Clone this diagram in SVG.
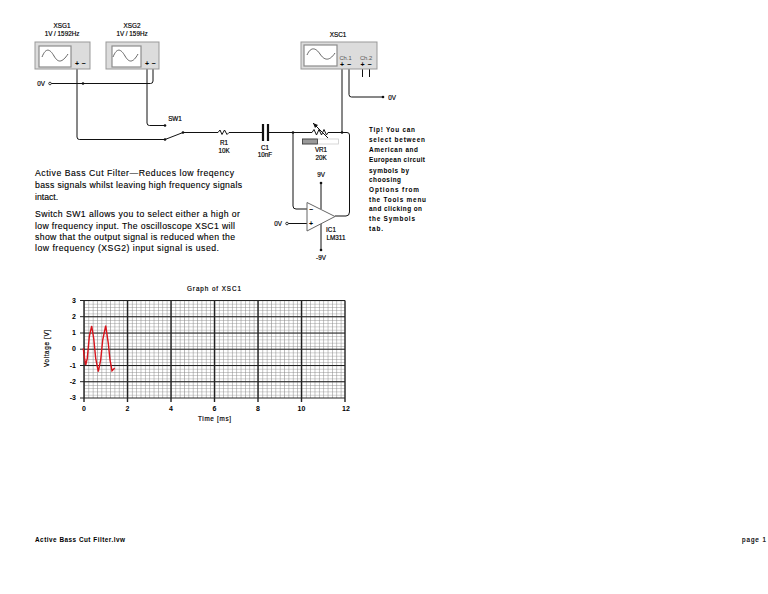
<svg xmlns="http://www.w3.org/2000/svg" width="768" height="594" viewBox="0 0 768 594">
<style>
text{font-family:"Liberation Sans",Arial,sans-serif;fill:#000}
.s{font-size:6.3px;text-anchor:middle;stroke:#000;stroke-width:0.18}
.b{font-size:8.7px;stroke:#000;stroke-width:0.12}
.t{font-size:6.4px;font-weight:bold}
.a{font-size:7px;font-weight:bold}
.w{fill:none;stroke:#111;stroke-width:1}
.box{fill:#dcdcdc;stroke:#999;stroke-width:1}
.scr{fill:#fff;stroke:#8c8c8c;stroke-width:1.2}
.sine{fill:none;stroke:#666;stroke-width:1}
.maj{stroke:#222;stroke-width:1;fill:none}
.maj2{stroke:#222;stroke-width:1.4;fill:none}
</style>
<defs>
<circle id="d" r="1.3" fill="#111"/>
<pattern id="grid" patternUnits="userSpaceOnUse" x="84" y="300.5" width="4.35" height="3.25">
<rect width="4.35" height="3.25" fill="#fff"/>
<path d="M0 0V3.25M0 0H4.35" stroke="#888" stroke-width="1" fill="none"/>
</pattern>
</defs>
<rect width="768" height="594" fill="#fff"/>

<g id="connectors" class="w">
<path d="M50 83.5H150.500Q153 83.500 153 81V69"/>
<path d="M77 69V137Q77 139.500 79.500 139.500H165"/>
<path d="M147 69V123Q147 125.500 149.500 125.500H165"/>
<path d="M165 139.500L183 132.500"/>
<path d="M183 132.500H218L220 130L222 134.500L224.500 130L227 134.500L229 132.500H262"/>
<path d="M268 132.500H312L314 129.500L316.500 135L319 129.500L321.500 135L324 129.500L326.500 135L328 132.500H347Q349.500 132.500 349.500 135V212Q349.500 216 346 216H335"/>
<path d="M342 69V132.500"/>
<path d="M349 69V94.500Q349 97 351.500 97H383"/>
<path d="M362.500 69V77M369.500 69V77"/>
<path d="M293 132.500V206Q293 209 296 209H307"/>
<path d="M287 223.500H307"/>
<path d="M321 183V209M321 224V250"/>
</g>

<g id="XSG1">
<rect class="box" x="35" y="42" width="55" height="27"/>
<rect class="scr" x="39" y="46" width="32" height="21"/>
<path class="sine" d="M42 57C46 47 50 49 54 56S62 63 68 54"/>
<text class="s" x="62" y="28">XSG1</text>
<text class="s" x="62" y="36">1V / 1592Hz</text>
<text class="a" x="77" y="66" text-anchor="middle">+</text>
<text class="a" x="83.500" y="66" text-anchor="middle">−</text>
</g>
<g id="XSG2">
<rect class="box" x="106" y="42" width="53" height="27"/>
<rect class="scr" x="112" y="46" width="29" height="21"/>
<path class="sine" d="M113 57C117 47 121 49 125 56S133 63 138 54"/>
<text class="s" x="132" y="28">XSG2</text>
<text class="s" x="132" y="36">1V / 159Hz</text>
<text class="a" x="147" y="66" text-anchor="middle">+</text>
<text class="a" x="153.500" y="66" text-anchor="middle">−</text>
</g>
<g id="XSC1">
<rect class="box" x="301" y="42" width="76" height="27"/>
<rect class="scr" x="304" y="45" width="33" height="21"/>
<path class="sine" d="M307 55C311 46 316 48 320 54S329 62 335 53"/>
<text class="s" x="338" y="37">XSC1</text>
<text x="345.500" y="60" text-anchor="middle" font-size="5.800" fill="#555" style="fill:#555">Ch.1</text>
<text x="366" y="60" text-anchor="middle" font-size="5.800" style="fill:#555">Ch.2</text>
<text class="a" x="342" y="67" text-anchor="middle">+</text>
<text class="a" x="349" y="67" text-anchor="middle">−</text>
<text class="a" x="362.500" y="67" text-anchor="middle">+</text>
<text class="a" x="369.500" y="67" text-anchor="middle">−</text>
</g>

<g id="ground-left">
<text class="s" x="41" y="85.500">0V</text>
<circle cx="50" cy="83.500" r="1.300" fill="#fff" stroke="#111" stroke-width="0.800"/>
<use href="#d" x="83" y="83.500"/>
</g>
<g id="ground-right">
<use href="#d" x="383" y="97"/>
<text class="s" x="392" y="99.500">0V</text>
</g>

<g id="SW1">
<use href="#d" x="165" y="125.500"/>
<use href="#d" x="165" y="139.500"/>
<use href="#d" x="183" y="132.500"/>
<text class="s" x="175" y="121">SW1</text>
</g>
<g id="R1">
<text class="s" x="224" y="145">R1</text>
<text class="s" x="224" y="153">10K</text>
</g>
<g id="C1">
<path d="M263 124V141M268 124V141" stroke="#111" stroke-width="2.200" fill="none"/>
<text class="s" x="265" y="150">C1</text>
<text class="s" x="265" y="157">10nF</text>
</g>
<g id="VR1">
<path d="M313 123L328 138" stroke="#111" stroke-width="1"/>
<path d="M313 123L318 125L315 128Z" fill="#111"/>
<rect x="302.500" y="139" width="36" height="5" fill="#fff" stroke="#ccc" stroke-width="0.800"/>
<rect x="302.500" y="139" width="15" height="5" fill="#999" stroke="#333" stroke-width="0.800"/>
<text class="s" x="321" y="152">VR1</text>
<text class="s" x="321" y="160">20K</text>
</g>
<g id="junctions">
<use href="#d" x="293" y="132.500"/>
<use href="#d" x="342" y="132.500"/>
</g>
<g id="IC1">
<path d="M307 202.500V231L335 216.500Z" fill="#fff" stroke="#666" stroke-width="1"/>
<text class="a" x="311" y="211.500" text-anchor="middle">−</text>
<text class="a" x="311" y="225.500" text-anchor="middle">+</text>
<use href="#d" x="321" y="183"/>
<use href="#d" x="321" y="250"/>
<circle cx="287" cy="223.500" r="1.300" fill="#fff" stroke="#111" stroke-width="0.800"/>
<text class="s" x="321" y="177">9V</text>
<text class="s" x="321" y="259.500">-9V</text>
<text class="s" x="278" y="225.500">0V</text>
<text class="s" x="331" y="232">IC1</text>
<text class="s" x="336" y="239.500">LM311</text>
</g>

<g id="description">
<text class="b" x="35" y="176" textLength="199">Active Bass Cut Filter—Reduces low freqency</text>
<text class="b" x="35" y="188" textLength="207">bass signals whilst leaving high frequency signals</text>
<text class="b" x="35" y="200">intact.</text>
<text class="b" x="35" y="217" textLength="205">Switch SW1 allows you to select either a high or</text>
<text class="b" x="35" y="229" textLength="200">low frequency input. The oscilloscope XSC1 will</text>
<text class="b" x="35" y="240" textLength="200">show that the output signal is reduced when the</text>
<text class="b" x="35" y="251" textLength="184">low frequency (XSG2) input signal is used.</text>
</g>

<g id="tip">
<text class="t" x="369" y="132" textLength="46">Tip! You can</text>
<text class="t" x="369" y="142" textLength="56">select between</text>
<text class="t" x="369" y="152" textLength="49">American and</text>
<text class="t" x="369" y="162" textLength="56">European circuit</text>
<text class="t" x="369" y="173" textLength="40">symbols by</text>
<text class="t" x="369" y="182" textLength="32">choosing</text>
<text class="t" x="369" y="192" textLength="50">Options from</text>
<text class="t" x="369" y="202" textLength="57">the Tools menu</text>
<text class="t" x="369" y="211" textLength="53">and clicking on</text>
<text class="t" x="369" y="221" textLength="46">the Symbols</text>
<text class="t" x="369" y="231" textLength="14">tab.</text>
</g>

<g id="graph">
<rect x="84" y="300.500" width="261" height="97.500" fill="url(#grid)"/>
<path class="maj" d="M80 300.500H345M80 316.700H345M80 333H345M80 349.200H345M80 365.500H345M80 381.700H345M80 398H345"/>
<path class="maj2" d="M84 300.500V402M127.500 300.500V402M171 300.500V402M214.500 300.500V402M258 300.500V402M301.500 300.500V402M345 300.500V402"/>
<path d="M83.300 348.300L84.300 356.700L85.700 365L87.300 358.300L89.300 336.700L91.700 326L93.700 338.300L95.700 358.300L98.300 371.700L100.700 360L102.700 340L105.700 325.700L108.300 343.300L110 360L112 370.700L114.700 368" fill="none" stroke="#d8141c" stroke-width="1.400"/>
<text class="s" x="214" y="291" textLength="54">Graph of XSC1</text>
<g class="a" text-anchor="end">
<text x="76" y="302.500">3</text>
<text x="76" y="319">2</text>
<text x="76" y="335">1</text>
<text x="76" y="351">0</text>
<text x="76" y="367.500">-1</text>
<text x="76" y="384">-2</text>
<text x="76" y="400">-3</text>
</g>
<g class="a" text-anchor="middle">
<text x="84" y="411">0</text>
<text x="127.500" y="411">2</text>
<text x="171" y="411">4</text>
<text x="214.500" y="411">6</text>
<text x="258" y="411">8</text>
<text x="301.500" y="411">10</text>
<text x="346" y="411">12</text>
</g>
<text class="s" x="214.500" y="420.500" textLength="33">Time [ms]</text>
<text class="s" transform="translate(49 348.500) rotate(-90)" textLength="37">Voltage [V]</text>
</g>

<g id="footer">
<text class="t" x="35" y="542" textLength="90">Active Bass Cut Filter.lvw</text>
<text class="s" x="754" y="542" textLength="24">page 1</text>
</g>
</svg>
